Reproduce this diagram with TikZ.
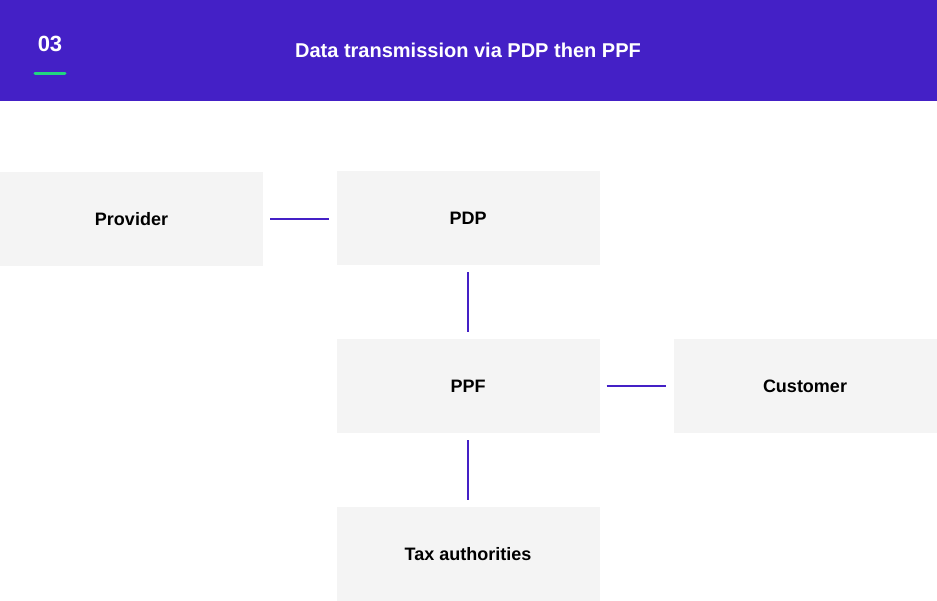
\documentclass[tikz,border=0pt]{standalone}
\usepackage{fontspec}
\setmainfont{Liberation Sans}
\definecolor{hdr}{HTML}{4420C6}
\definecolor{grn}{HTML}{22D67F}
\definecolor{boxg}{HTML}{F4F4F4}
\begin{document}
\begin{tikzpicture}[x=1pt,y=-1pt,
  box/.style={fill=boxg,draw=none,minimum width=263pt,minimum height=94pt,font=\bfseries\fontsize{18}{20}\selectfont,inner sep=0pt},
  conn/.style={draw=hdr,line width=1.8pt,shorten <=7pt,shorten >=7pt}]
\useasboundingbox (0,0) rectangle (937,601);
\fill[hdr] (0,0) rectangle (937,101);
\node[text=white,font=\bfseries\fontsize{22}{24}\selectfont] (num) at (50,44) {03};
\draw[grn,line width=3pt,line cap=round] (35,74) -- (65,74);
\node[text=white,font=\bfseries\fontsize{20}{24}\selectfont] (title) at (468,50) {Data transmission via PDP then PPF};
\node[box] (prov) at (131.5,219) {Provider};
\node[box] (pdp) at (468,218) {PDP};
\node[box] (ppf) at (468,386) {PPF};
\node[box] (cust) at (805,386) {Customer};
\node[box] (tax) at (468,554) {Tax authorities};
\draw[conn] (prov.east) -- (pdp.west |- prov.east);
\draw[conn] (pdp) -- (ppf);
\draw[conn] (ppf) -- (cust);
\draw[conn] (ppf) -- (tax);
\end{tikzpicture}
\end{document}
